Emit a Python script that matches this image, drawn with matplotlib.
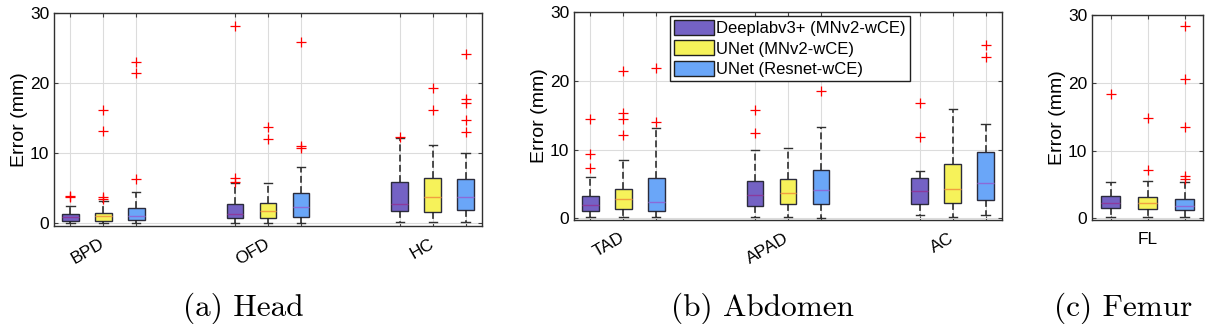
import matplotlib.pyplot as plt
from matplotlib.patches import Patch
from matplotlib.transforms import ScaledTranslation

models = ['Deeplabv3+ (MNv2-wCE)', 'UNet (MNv2-wCE)', 'UNet (Resnet-wCE)']
face_colors = ['#7462c4', '#f6f25a', '#6aa6f8']
median_colors = ['#8c3a9c', '#f0a040', '#8c6ad8']

# each row: whisker low, q1, median, q3, whisker high (mm); 3 models per measurement
head_names = ['BPD', 'OFD', 'HC']
head_boxes = [
    [0.0, 0.38, 0.95, 1.29, 2.5], [0.0, 0.33, 1.05, 1.52, 3.1], [0.0, 0.43, 1.05, 2.1, 4.5],
    [0.0, 0.81, 1.29, 2.76, 5.7], [0.0, 0.71, 1.8, 2.95, 5.7], [0.0, 0.95, 2.3, 4.24, 8.0],
    [0.1, 1.67, 2.7, 5.86, 12.2], [0.15, 1.57, 3.8, 6.5, 11.1], [0.15, 1.9, 3.8, 6.29, 10.0],
]
head_outliers = [
    [3.8, 3.95], [3.4, 3.7, 13.2, 16.2], [6.3, 21.5, 23.0],
    [5.95, 6.5, 28.1], [12.0, 13.8], [10.8, 11.0, 25.8],
    [12.3], [16.2, 19.3], [12.95, 14.76, 17.2, 17.7, 24.1],
]

abdomen_names = ['TAD', 'APAD', 'AC']
abdomen_boxes = [
    [0.15, 1.02, 1.89, 3.19, 6.05], [0.2, 1.31, 2.8, 4.26, 8.47], [0.15, 1.02, 2.42, 5.85, 13.06],
    [0.2, 1.84, 3.39, 5.42, 9.92], [0.15, 2.08, 3.63, 5.76, 10.26], [0.1, 2.08, 4.06, 7.06, 13.3],
    [0.48, 2.08, 3.97, 5.8, 6.9], [0.24, 2.23, 4.2, 7.93, 15.96], [0.48, 2.61, 5.13, 9.68, 13.7],
]
abdomen_outliers = [
    [7.26, 9.29, 14.47], [12.1, 14.4, 15.3, 21.4], [14.0, 21.8],
    [12.4, 15.7], [], [18.5],
    [11.76, 16.7], [], [23.5, 25.25],
]

femur_names = ['FL']
femur_boxes = [
    [0.15, 1.48, 2.32, 3.3, 5.39], [0.15, 1.43, 2.22, 3.11, 5.54], [0.15, 1.19, 1.88, 2.92, 5.39],
]
femur_outliers = [
    [18.3], [7.07, 14.73], [5.83, 6.18, 13.5, 20.6, 28.4],
]

captions = ['(a) Head', '(b) Abdomen', '(c) Femur']

fig = plt.figure(figsize=(12.07, 3.24), dpi=100)
W, H = 1207, 324


def add_ax(l, r, t, b):
    return fig.add_axes([l / W, 1 - b / H, (r - l) / W, (b - t) / H])


def draw(ax, names, boxes, outliers, ylo, rotate):
    n = len(names)
    positions = []
    for g in range(n):
        positions += [g * 5 + 1, g * 5 + 2, g * 5 + 3]
    stats = []
    for s, fl in zip(boxes, outliers):
        stats.append(dict(whislo=s[0], q1=s[1], med=s[2], q3=s[3], whishi=s[4], fliers=fl))
    art = ax.bxp(stats, positions=positions, widths=0.5, patch_artist=True,
                 capwidths=0.25, manage_ticks=False,
                 boxprops=dict(edgecolor='#2b2b3b', linewidth=1.0),
                 whiskerprops=dict(color='#202020', linewidth=1.1, dashes=(4.5, 2.2)),
                 capprops=dict(color='#303030', linewidth=1.0),
                 medianprops=dict(linewidth=1.0),
                 flierprops=dict(marker='+', markeredgecolor='red', markersize=6.5,
                                 markeredgewidth=0.9, linestyle='none'))
    for i, box in enumerate(art['boxes']):
        box.set_facecolor(face_colors[i % 3])
        art['medians'][i].set_color(median_colors[i % 3])
    ax.set_xlim(0.5, positions[-1] + 0.5)
    ax.set_ylim(ylo, 30)
    ax.set_yticks([0, 10, 20, 30])
    ax.set_xticks(positions)
    labels = []
    for g in range(n):
        labels += ['', names[g], '']
    if rotate:
        ax.set_xticklabels(labels, rotation=30, ha='right', va='center',
                           rotation_mode='anchor')
        ax.tick_params(axis='x', pad=12)
        shift = ScaledTranslation(5 / 100, 0, fig.dpi_scale_trans)
        for lab in ax.get_xticklabels():
            lab.set_transform(lab.get_transform() + shift)
    else:
        ax.set_xticklabels(labels)
        ax.tick_params(axis='x', pad=9)
    ax.grid(True, color='#dcdcdc', linewidth=0.8)
    ax.set_axisbelow(True)
    ax.tick_params(direction='in', top=True, right=True, length=3,
                   labelsize=12.5, color='#404040')
    for sp in ax.spines.values():
        sp.set_color('#303030')
        sp.set_linewidth(1.0)
    ax.set_ylabel('Error (mm)', fontsize=14, labelpad=1)


plt.rcParams['font.family'] = ['Liberation Sans', 'DejaVu Sans']

ax_a = add_ax(54, 482, 13, 226)
draw(ax_a, head_names, head_boxes, head_outliers, -0.4, True)
ax_b = add_ax(574, 1002, 12, 220)
draw(ax_b, abdomen_names, abdomen_boxes, abdomen_outliers, -0.25, True)
ax_c = add_ax(1092, 1203, 15, 220)
draw(ax_c, femur_names, femur_boxes, femur_outliers, -0.25, False)

handles = [Patch(facecolor=c, edgecolor='#202020', linewidth=1.0) for c in face_colors]
ax_b.legend(handles, models, loc='upper right', bbox_to_anchor=(910 / W, 1 - 16 / H),
            bbox_transform=fig.transFigure, fancybox=False, edgecolor='#202020',
            framealpha=1, fontsize=12, handlelength=2.4, handleheight=1.0,
            handletextpad=0.15, labelspacing=0.25, borderpad=0.25, borderaxespad=0)

for cap, x in zip(captions, [243, 763, 1123]):
    fig.text(x / W, 1 - 308 / H, cap, ha='center', va='center', fontsize=22.5,
             family='cmr10')

fig.savefig('out.png', dpi=100)
